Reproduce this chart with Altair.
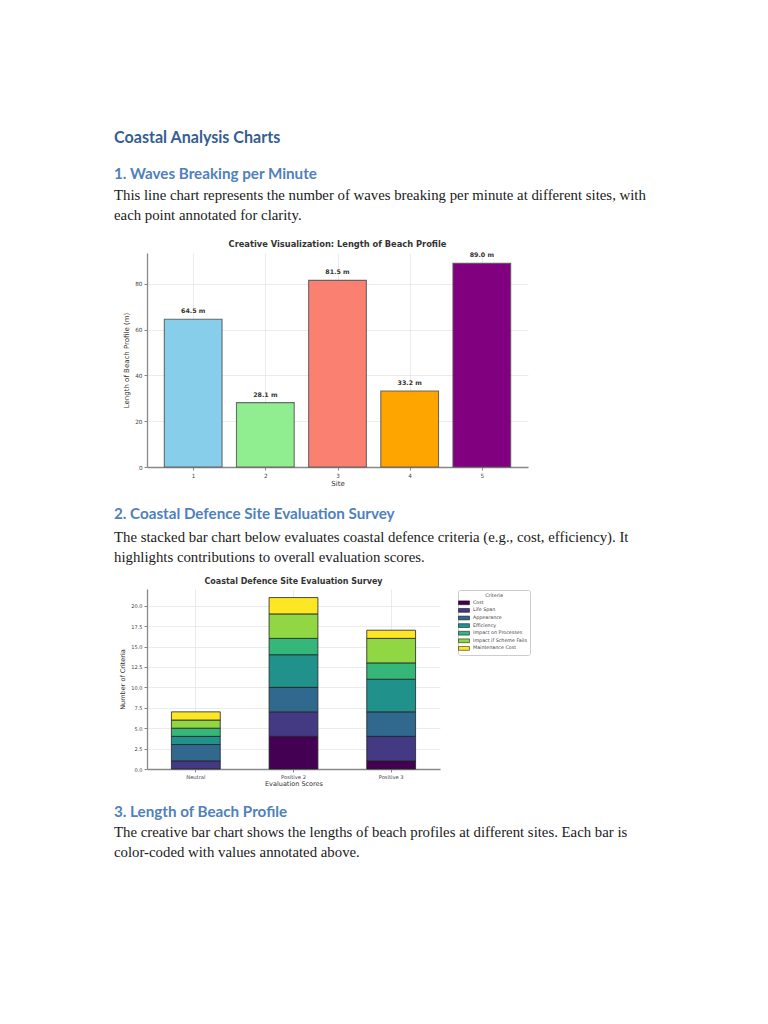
import altair as alt
import pandas as pd

# ---------------- data ----------------
sites = [1, 2, 3, 4, 5]
lengths = [64.5, 28.1, 81.5, 33.2, 89.0]
bar_colors = ["#87CEEB", "#90EE90", "#FA8072", "#FFA500", "#800080"]

scores = ["Neutral", "Positive 2", "Positive 3"]
criteria = ["Cost", "Life Span", "Appearance", "Efficiency",
            "Impact on Processes", "Impact if Scheme Fails", "Maintenance Cost"]
cost = [0, 4, 1]
life_span = [1, 3, 3]
appearance = [2, 3, 3]
efficiency = [1, 4, 4]
impact_processes = [1, 2, 2]
impact_fails = [1, 3, 3]
maintenance = [1, 2, 1]
viridis = ["#440154", "#443983", "#31688e", "#21918c", "#35b779", "#90d743", "#fde725"]

page_title = "Coastal Analysis Charts"
h1 = "1. Waves Breaking per Minute"
p1 = ["This line chart represents the number of waves breaking per minute at different sites, with",
      "each point annotated for clarity."]
h2 = "2. Coastal Defence Site Evaluation Survey"
p2 = ["The stacked bar chart below evaluates coastal defence criteria (e.g., cost, efficiency). It",
      "highlights contributions to overall evaluation scores."]
h3 = "3. Length of Beach Profile"
p3 = ["The creative bar chart shows the lengths of beach profiles at different sites. Each bar is",
      "color-coded with values annotated above."]

FONT_H = "Lato"
FONT_B = "Liberation Serif"
FONT_C = "DejaVu Sans"
TX = -33  # text left relative to chart plot left
HS = 15.2
BS = 14.8


def tline(text, y, size, color, font, weight="normal"):
    return alt.Chart(pd.DataFrame({"t": [text]})).mark_text(
        align="left", baseline="middle", font=font, fontSize=size,
        fontWeight=weight, color=color
    ).encode(text="t:N", x=alt.value(TX), y=alt.value(y))


def text_panel(items, h):
    return alt.layer(*items).properties(width=560, height=h)


# ---------------- page text panels ----------------
P1 = text_panel([
    tline(page_title, 128.5, 16.1, "#365F91", FONT_H, "bold"),
    tline(h1, 165, HS, "#4F81BD", FONT_H, "bold"),
    tline(p1[0], 186.5, BS, "#1a1a1a", FONT_B),
    tline(p1[1], 206.5, BS, "#1a1a1a", FONT_B),
], 244)

P3 = text_panel([
    tline(h2, 47, HS, "#4F81BD", FONT_H, "bold"),
    tline(p2[0], 71, BS, "#1a1a1a", FONT_B),
    tline(p2[1], 90.5, BS, "#1a1a1a", FONT_B),
], 122)

P5 = text_panel([
    tline(h3, 43, HS, "#4F81BD", FONT_H, "bold"),
    tline(p3[0], 64, BS, "#1a1a1a", FONT_B),
    tline(p3[1], 84, BS, "#1a1a1a", FONT_B),
], 120)

# ---------------- chart 1: beach profile ----------------
df1 = pd.DataFrame({"site": sites, "length": lengths, "color": bar_colors})

axis_common = dict(labelFont=FONT_C, titleFont=FONT_C, labelColor="#444",
                   titleColor="#333", domainColor="#888", domainWidth=1.3,
                   tickColor="#888", tickSize=3, gridColor="#e3e3e3",
                   gridWidth=0.7, titleFontWeight="normal")

base1 = alt.Chart(df1).transform_calculate(
    x0="datum.site - 0.4", x1="datum.site + 0.4",
    lab="format(datum.length, '.1f') + ' m'"
)
x1s = alt.Scale(domain=[0.36, 5.64], nice=False, zero=False)
y1s = alt.Scale(domain=[0, 93.45], nice=False)

bars1 = base1.mark_bar(stroke="#555", strokeWidth=1.1, strokeOpacity=0.85).encode(
    x=alt.X("x0:Q", scale=x1s, axis=alt.Axis(values=sites, format="d", title="Site",
                                             labelFontSize=5.7, titleFontSize=7,
                                             titlePadding=2, labelPadding=2, **axis_common)),
    x2="x1:Q",
    y=alt.Y("length:Q", scale=y1s,
            axis=alt.Axis(values=[0, 20, 40, 60, 80], title="Length of Beach Profile (m)",
                          labelFontSize=5.7, titleFontSize=7, titlePadding=5,
                          labelPadding=2, **axis_common)),
    y2=alt.datum(0),
    fill=alt.Fill("color:N", scale=None),
)
labels1 = base1.mark_text(font=FONT_C, fontSize=6.3, fontWeight="bold", color="#333",
                          dy=-8, baseline="middle").encode(
    x=alt.X("site:Q", scale=x1s), y=alt.Y("length:Q", scale=y1s), text="lab:N")

P2 = alt.layer(bars1, labels1).properties(
    width=381, height=214,
    title=alt.TitleParams("Creative Visualization: Length of Beach Profile",
                          font=FONT_C, fontSize=8.3, fontWeight="bold",
                          color="#333", offset=4, anchor="middle"))

# ---------------- chart 2: evaluation survey ----------------
series = [cost, life_span, appearance, efficiency, impact_processes, impact_fails, maintenance]
rows = []
for ci, (c, vals) in enumerate(zip(criteria, series)):
    for s, v in zip(scores, vals):
        rows.append({"score": s, "criterion": c, "order": ci, "count": v})
df2 = pd.DataFrame(rows)

bars2 = alt.Chart(df2).transform_filter("datum.count > 0").mark_bar(
    stroke="#222", strokeWidth=0.8).encode(
    x=alt.X("score:N", sort=scores,
            scale=alt.Scale(paddingInner=0.5, paddingOuter=0.25),
            axis=alt.Axis(title="Evaluation Scores", labelAngle=0, bandPosition=0.5,
                          labelFontSize=5.2, titleFontSize=6.5, titlePadding=1,
                          labelPadding=2, grid=True, **axis_common)),
    y=alt.Y("count:Q", stack="zero", scale=alt.Scale(domain=[0, 22.05], nice=False),
            axis=alt.Axis(values=[0, 2.5, 5, 7.5, 10, 12.5, 15, 17.5, 20], format=".1f",
                          title="Number of Criteria", labelFontSize=5, titleFontSize=6.5,
                          titlePadding=5, labelPadding=2, **axis_common)),
    color=alt.Color("criterion:N", scale=alt.Scale(domain=criteria, range=viridis),
                    legend=alt.Legend(
                        title="Criteria", orient="none", legendX=311, legendY=1,
                        titleFont=FONT_C, titleFontSize=4.8, titleFontWeight="normal",
                        titleColor="#444", titleAnchor="middle",
                        labelFont=FONT_C, labelFontSize=4.8, labelColor="#444",
                        symbolType="M-2,-0.7H2V0.7H-2Z", symbolSize=30,
                        symbolStrokeColor="#000", symbolStrokeWidth=0.5,
                        symbolOpacity=1, labelOffset=6, rowPadding=1.6,
                        padding=3, fillColor="white", strokeColor="#ccc",
                        cornerRadius=2, titlePadding=2)),
    order=alt.Order("order:Q", sort="ascending"),
)
P4 = bars2.properties(
    width=293, height=180,
    title=alt.TitleParams("Coastal Defence Site Evaluation Survey",
                          font=FONT_C, fontSize=8, fontWeight="bold",
                          color="#333", offset=3, anchor="middle"))

chart = alt.vconcat(P1, P2, P3, P4, P5, spacing=0, bounds="flush").resolve_scale(
    color="independent"
).resolve_legend(color="independent").properties(
    padding={"left": 106, "top": 1, "right": 5, "bottom": 5},
    background="white"
).configure_view(stroke=None, strokeWidth=0)

chart.save("out.html", embed_options={"renderer": "svg", "actions": False})
